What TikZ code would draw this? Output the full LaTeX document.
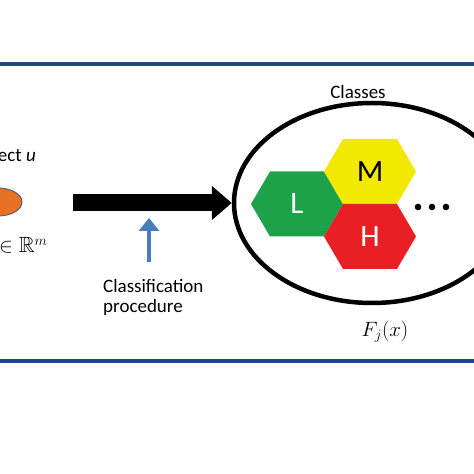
\documentclass[tikz,border=0pt]{standalone}
\usepackage{amsmath}
\usepackage{amssymb}
\usepackage{fontspec}
\newfontfamily\calibfont{Carlito}
\usetikzlibrary{positioning,shapes.geometric,arrows.meta}

\begin{document}
\begin{tikzpicture}[x=1pt,y=1pt]
	\definecolor{rulebl}{RGB}{31,73,125}
	\definecolor{hexgreen}{RGB}{28,163,74}
	\definecolor{hexyellow}{RGB}{242,232,0}
	\definecolor{hexred}{RGB}{232,32,38}
	\definecolor{objorange}{RGB}{232,113,35}
	\definecolor{objedge}{RGB}{85,95,125}
	\definecolor{procblue}{RGB}{74,126,187}
	\tikzset{
		sans/.style={
			font=\calibfont\fontsize{19}{20}\selectfont, inner sep=0pt
		},
		mathlbl/.style={
			font=\fontsize{22}{24}\selectfont, inner sep=0pt
		},
		hexlbl/.style={
			font=\calibfont\fontsize{31}{31}\selectfont, inner sep=0pt
		},
		classset/.style={
			ellipse, draw=black, line width=4.5pt,
			minimum width=276pt, minimum height=200pt, inner sep=0pt
		},
		bigarrow/.style={
			-{Triangle[length=20pt,width=33pt]}, draw=black, line width=17pt
		},
		procarrow/.style={
			-{Triangle[length=13pt,width=20pt]}, draw=procblue, line width=4pt
		},
		rulebar/.style={draw=rulebl, line width=4pt}
	}
	\useasboundingbox (0,0) rectangle (474,474);
	\clip (0,0) rectangle (474,474);
	
	% ======= frame lines =======
	\draw[rulebar] (0,410) -- (474,410);
	\draw[rulebar] (0,113) -- (474,113);
	
	% ======= object on the left =======
	\draw[fill=objorange, draw=objedge, line width=1pt] (-2,272) ellipse [x radius=24, y radius=14];
	\node[sans, anchor=base east] (objname) at (36,312) {Object \textit{u}};
	\node[mathlbl, anchor=base west] (objspace) at (-1,221) {$\in\mathbb{R}^m$};
	
	% ======= classes =======
	\node[classset] (classes) at (372,271) {};
	\node[sans] (clsname) at (358,382) {Classes};
	
	\fill[hexgreen]  (251,270) -- (270,302.5) -- (324,302.5) -- (343,270) -- (324,237.5) -- (270,237.5) -- cycle;
	\fill[hexyellow] (324,302.5) -- (343,335) -- (397,335) -- (416,302.5) -- (397,270) -- (343,270) -- cycle;
	\fill[hexred]    (324,237.5) -- (343,270) -- (397,270) -- (416,237.5) -- (397,205) -- (343,205) -- cycle;
	
	\node[hexlbl, text=white] (cL) at (297,270)   {L};
	\node[hexlbl, text=black] (cM) at (370,302.5) {M};
	\node[hexlbl, text=white] (cH) at (370,237.5) {H};
	
	\fill (418,267) circle (3.3);
	\fill (432,267) circle (3.3);
	\fill (446,267) circle (3.3);
	
	\node[mathlbl] (fmap) at (385,142) {$F_j(x)$};
	
	% ======= classification arrow =======
	\coordinate (feat) at (73,271);
	\draw[bigarrow] (feat) -- (classes.west);
	
	\coordinate (procbot) at (149,212);
	\coordinate (proctop) at (149,256);
	\draw[procarrow] (procbot) -- (proctop);
	\node[sans, align=left, anchor=north west] (procname) at (103,195) {Classification\\procedure};
	
\end{tikzpicture}
\end{document}
